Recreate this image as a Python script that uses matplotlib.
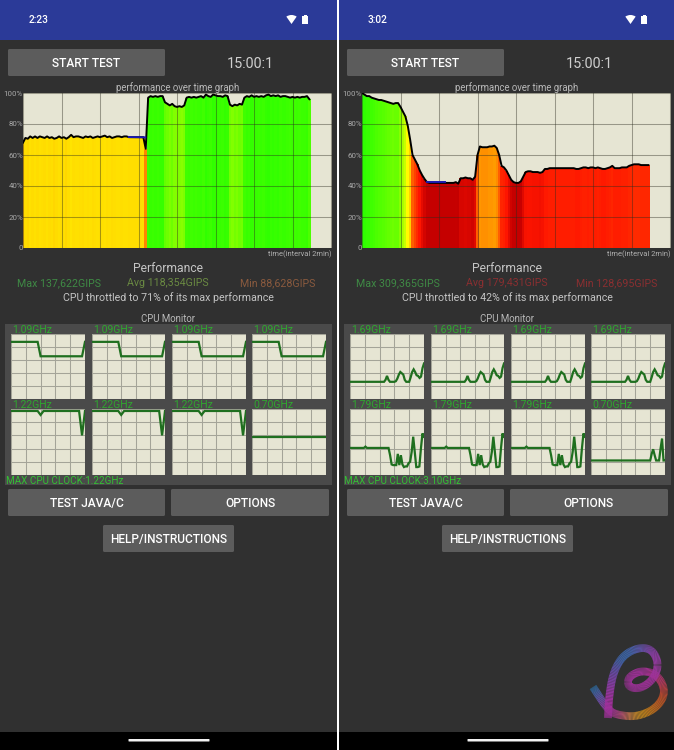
# CPU throttling test screenshots, two runs side by side
import matplotlib
matplotlib.use('Agg')
import matplotlib.pyplot as plt
import numpy as np
from matplotlib.collections import LineCollection
from matplotlib.colors import LinearSegmentedColormap, Normalize, to_rgb
from matplotlib.patches import FancyBboxPatch, Rectangle, Wedge

plt.rcParams['font.family'] = ['Roboto', 'DejaVu Sans']

W, H = 674, 750
SAMPLE_MIN = 0.125

# performance (%) every 7.5 s, left run
perf_left = [
    68, 71, 70.5, 72, 71, 72, 71, 72, 71.5, 71, 72, 71, 71.5, 70.5, 71, 72,
    71, 71.5, 70.5, 71.5, 73, 71.5, 72, 72, 71.5, 71, 72, 71.5, 72, 71, 71.5, 72,
    71.5, 72, 72.5, 71.5, 72, 71, 71.5, 72, 72, 71.5, 72, 72, 71.5, 71.5, 71.5, 71.5,
    71.5, 71.5, 71.5, 64, 97, 98, 97.5, 98, 97.5, 98, 98, 94, 93, 92, 93, 91.5,
    91, 91.5, 91, 92, 97, 97.5, 97, 97.5, 97, 97.5, 98, 97, 99, 98, 97.5, 99,
    98.5, 98, 98, 97.5, 98.5, 98, 92.5, 91.5, 92.5, 92, 93, 92.5, 97, 98, 97.5, 98.5,
    97.5, 98, 97.5, 98, 97.5, 98.5, 99, 98, 98.5, 98, 98.5, 97.5, 98, 98, 97.5, 97,
    97.5, 97, 97.5, 97, 97.5, 97.5, 98, 96,
]
# performance (%) every 7.5 s, right run
perf_right = [
    100, 99, 98, 98, 97, 96.5, 96, 95.5, 95.5, 95, 94.5, 94, 93.5, 93, 93.5, 93.5,
    91, 88, 85, 79, 70, 60, 57, 54, 50, 47, 44.5, 42.5, 42, 42, 42, 42,
    42, 42, 42, 42, 42, 42, 42, 42.5, 41.5, 45, 45, 45.5, 45, 45, 44, 46,
    60, 65.5, 65, 65, 65, 65.5, 65.5, 66, 64.5, 60, 53, 52, 50, 47, 44, 42.5,
    42, 42, 43, 46, 49, 49.5, 49.5, 49, 49, 49, 48.5, 49, 51, 51, 51.5, 51.5,
    51.5, 51.5, 51.5, 51.5, 51.5, 51.5, 51.5, 51.5, 51.5, 51, 51, 51.5, 52, 52, 51.5, 52,
    52, 51.5, 52, 51.5, 51, 51, 51.5, 52, 53, 51.5, 51.5, 51.5, 52, 52, 52, 53,
    53.5, 54, 54, 54, 53.5, 53.5, 53.5, 53.5,
]

# blue stretch of the curve (minutes, %)
blue_left_t = [5.5, 6.35]
blue_left_v = [71.6, 71.4]
blue_right_t = [3.4, 4.3]
blue_right_v = [42.6, 42.6]

pct_ticks = [0, 20, 40, 60, 80, 100]
pct_labels = ['0', '20%', '40%', '60%', '80%', '100%']

# core monitors, % of each small plot, samples evenly spaced across it
big_left = [88] * 10 + [66] * 14 + [66, 88]
little_left = [97] * 10 + [91] + [97] * 12 + [97, 60, 97]
idle_left = [57] * 26

big_right = [27] * 24 + [30, 36, 30, 27, 27, 27, 27, 28, 32, 38, 42, 40, 38, 30, 27, 27,
                         27, 34, 42, 46, 42, 37, 36, 33, 35, 48, 55]
little_right = [41] * 10 + [43] + [41] * 15 + [30, 16, 15, 15, 15, 32, 15, 30, 16, 12, 13, 13,
                                                 18, 20, 35, 58, 35, 12, 12, 13, 40, 63, 58]
idle_right = [22] * 40 + [22, 32, 39, 30, 22, 22, 22, 40, 55, 22, 22]

labels_left = ['1.09GHz'] * 4 + ['1.22GHz'] * 3 + ['0.70GHz']
labels_right = ['1.69GHz'] * 4 + ['1.79GHz'] * 3 + ['0.70GHz']

# column colour follows performance
value_stops = [40, 43, 50, 55, 62, 66, 71, 80, 88, 93, 97, 100]
stop_colors = ['#c00000', '#c80000', '#ff1500', '#ff3000', '#ff7000', '#ff9c00',
               '#ffdc00', '#ffff00', '#aaff00', '#70ff00', '#40ff00', '#28ff00']
norm = Normalize(40, 100)
perf_cmap = LinearSegmentedColormap.from_list(
    'perf', [((v - 40) / 60, c) for v, c in zip(value_stops, stop_colors)])

fig = plt.figure(figsize=(W / 100, H / 100), dpi=100, facecolor='#303030')
bg = fig.add_axes([0, 0, 1, 1])
bg.set_xlim(0, W)
bg.set_ylim(H, 0)
bg.axis('off')

# labels that sit over the small plots
fg = fig.add_axes([0, 0, 1, 1], zorder=5)
fg.set_xlim(0, W)
fg.set_ylim(H, 0)
fg.axis('off')


def px_axes(x0, y0, x1, y1):
    return fig.add_axes([x0 / W, 1 - y1 / H, (x1 - x0) / W, (y1 - y0) / H], zorder=3)


def button(x0, y0, x1, y1, label):
    bg.add_patch(FancyBboxPatch((x0 + 1, y0 + 1), x1 - x0 - 2, y1 - y0 - 2,
                                boxstyle='round,pad=1,rounding_size=1.5', fc='#5c5c5c', ec='none'))
    bg.text((x0 + x1) / 2, (y0 + y1) / 2 + 1.2, label, color='white', fontsize=8.6,
            fontweight='medium', ha='center', va='center')


def main_chart(off, perf, blue_t, blue_v):
    ax = px_axes(off + 23, 93, off + 332, 248)
    t = np.arange(len(perf)) * SAMPLE_MIN
    ax.set_facecolor('#e6e5d3')
    ax.bar(t, perf, width=SAMPLE_MIN * 1.05, color=perf_cmap(norm(perf)), linewidth=0, zorder=1)
    ax.set_xlim(0, 16.05)
    ax.set_ylim(0, 100)
    ax.set_xticks(range(0, 17, 2))
    ax.set_yticks(pct_ticks, pct_labels)
    ax.grid(True, color='#2c2c20', alpha=0.42, lw=0.75, zorder=2)
    ax.set_axisbelow(False)
    ax.tick_params(length=0, pad=0, labelsize=5.7, labelcolor='#a8a8a8', labelbottom=False)
    ax.plot(t, perf, color='black', lw=1.4, zorder=4)
    ax.plot(blue_t, blue_v, color='#1a1ab0', lw=1.4, zorder=5)
    for s in ax.spines.values():
        s.set_visible(False)


def core_plot(x0, y0, x1, y1, values):
    ax = px_axes(x0, y0, x1, y1)
    ax.set_facecolor('#e6e5d3')
    ax.plot(np.linspace(0, 100, len(values)), values, color='#1f6f1f', lw=1.6,
            solid_joinstyle='miter', zorder=4)
    ax.set_xlim(0, 100)
    ax.set_ylim(0, 100)
    ax.set_xticks(range(0, 101, 20))
    ax.set_yticks(range(0, 101, 20))
    ax.grid(True, color='#a4a498', lw=0.75)
    ax.tick_params(length=0, labelleft=False, labelbottom=False)
    for s in ax.spines.values():
        s.set_visible(False)


def phone(off, clock, perf, blue_t, blue_v, stats, stat_colors, throttle, cores, labels, max_clock):
    pw = 337 if off == 0 else 335
    bg.add_patch(Rectangle((off, 0), pw, 40, fc='#2b3a98', ec='none'))
    bg.add_patch(Rectangle((off, 732), pw, 18, fc='black', ec='none'))
    bg.add_patch(FancyBboxPatch((off + 129, 739.5), 80, 1.5, boxstyle='round,pad=0.5',
                                fc='#f2f2f2', ec='none'))
    bg.text(off + 39, 20, clock, color='white', fontsize=7.3, fontweight='medium',
            ha='center', va='center')
    # status icons
    bg.add_patch(Wedge((off + 291.5, 24), 9, 235, 305, fc='white', ec='none'))
    bg.add_patch(Rectangle((off + 302, 16), 6, 8, fc='white', ec='none'))
    bg.add_patch(Rectangle((off + 303.5, 15), 3, 1.2, fc='white', ec='none'))

    button(off + 8, 49, off + 165, 76, 'START TEST')
    bg.text(off + 250.5, 64, '15:00:1', color='#cfcfcf', fontsize=10.4, ha='center', va='center')
    bg.text(off + 178, 88, 'performance over time graph', color='#b8b8b8', fontsize=6.9,
            ha='center', va='center')

    main_chart(off, perf, blue_t, blue_v)

    bg.text(off + 332, 254, 'time(interval 2min)', color='#b0b0b0', fontsize=5.4,
            ha='right', va='center')
    bg.text(off + 168, 268, 'Performance', color='#c4c4c4', fontsize=8.7, ha='center', va='center')
    for cx, s, c in zip((59, 168, 277.5), stats, stat_colors):
        bg.text(off + cx, 283.5, s, color=c, fontsize=7.7, ha='center', va='center')
    bg.text(off + 168, 297.5, throttle, color='#c4c4c4', fontsize=7.65, ha='center', va='center')
    bg.text(off + 168, 318.5, 'CPU Monitor', color='#b8b8b8', fontsize=6.9, ha='center', va='center')

    bg.add_patch(Rectangle((off + 5, 324), 327, 161, fc='#4a4a4a', ec='none'))
    xs = [(11, 85), (92, 165), (172, 246), (252, 326)]
    ys = [(334, 399.5), (409, 475)]
    for i, values in enumerate(cores):
        x0, x1 = xs[i % 4]
        y0, y1 = ys[i // 4]
        core_plot(off + x0, y0, off + x1, y1, values)
        fg.text(off + x0 + 1, y0 - 4, labels[i], color='#2fa82f', fontsize=7.5, ha='left', va='center')
    fg.text(off + 5.5, 480.5, max_clock, color='#33c033', fontsize=7.1, ha='left', va='center')

    button(off + 8, 489, off + 165, 516, 'TEST JAVA/C')
    button(off + 171, 489, off + 329, 516, 'OPTIONS')
    button(off + 103, 525, off + 234, 552, 'HELP/INSTRUCTIONS')


phone(0, '2:23', perf_left, blue_left_t, blue_left_v,
      ['Max 137,622GIPS', 'Avg 118,354GIPS', 'Min 88,628GIPS'],
      ['#3f8a45', '#6a8a42', '#8a5a3e'],
      'CPU throttled to 71% of its max performance',
      [big_left] * 4 + [little_left] * 3 + [idle_left], labels_left, 'MAX CPU CLOCK:1.22GHz')
phone(339, '3:02', perf_right, blue_right_t, blue_right_v,
      ['Max 309,365GIPS', 'Avg 179,431GIPS', 'Min 128,695GIPS'],
      ['#3f8a45', '#8a2f30', '#8a2f30'],
      'CPU throttled to 42% of its max performance',
      [big_right] * 4 + [little_right] * 3 + [idle_right], labels_right, 'MAX CPU CLOCK:3.10GHz')

# divider between the two screenshots
bg.add_patch(Rectangle((337, 0), 2, H, fc='white', ec='none'))

# watermark ribbon
logo_x = [593, 608, 617, 637, 657, 666, 658, 642, 628, 628, 640, 653, 659, 653, 640, 623, 613, 609, 608]
logo_y = [687, 710, 715, 717, 708, 692, 675, 670, 677, 687, 689, 680, 665, 650, 647, 655, 673, 697, 718]
logo_c = ['#2a6a9a', '#9a2f9a', '#a03a80', '#b08a1a', '#b8601f', '#b04030', '#a83080', '#a0309a',
          '#a0309a', '#a0309a', '#a0309a', '#a0309a', '#983aa0', '#8a3fa8', '#5a55a8', '#2f6aa0',
          '#6a45a0', '#a0309a', '#a0309a']
pts = np.column_stack([logo_x, logo_y], ).astype(float)
cols = np.array([to_rgb(c) for c in logo_c])
# corner cutting to round off the ribbon
for _ in range(4):
    pts = np.vstack([pts[0], np.column_stack([0.75 * pts[:-1] + 0.25 * pts[1:],
                                              0.25 * pts[:-1] + 0.75 * pts[1:]]).reshape(-1, 2), pts[-1]])
    cols = np.vstack([cols[0], np.column_stack([0.75 * cols[:-1] + 0.25 * cols[1:],
                                                0.25 * cols[:-1] + 0.75 * cols[1:]]).reshape(-1, 3), cols[-1]])
bg.add_collection(LineCollection(np.stack([pts[:-1], pts[1:]], axis=1), colors=cols[:-1],
                                 linewidths=5.6, capstyle='butt'))

fig.savefig('out.png', dpi=100, facecolor=fig.get_facecolor())
